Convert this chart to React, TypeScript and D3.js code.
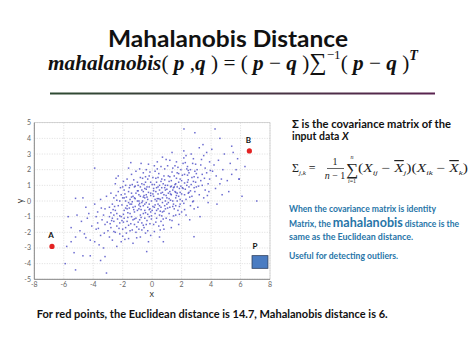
import React from "react";
import * as d3 from "d3";

const W = 474;
const H = 355;

const xTicks = [-8, -6, -4, -2, 0, 2, 4, 6, 8];
const yTicks = [-5, -4, -3, -2, -1, 0, 1, 2, 3, 4, 5];

// scatter cloud [x, y]
const cloud: [number, number][] = [
  [-4.8,-1.3],[-4.6,-2.1],[-4.3,-0.8],[-4.1,-1.6],[-4.5,-0.4],[-4.2,-2.5],[-4.9,-1.9],[-4.4,-1.1],
  [-3.9,-0.2],[-3.7,-1.4],[-3.5,-2.2],[-3.3,-0.9],[-3.8,-1.8],[-3.2,-0.5],[-3.6,-2.8],[-3.4,-1.2],[-3.1,0.3],[-3.9,-2.6],[-3.3,-3.0],[-3.7,-0.7],[-3.0,-1.9],[-3.5,0.1],[-3.2,-1.5],[-3.8,-1.0],
  [-2.9,-0.4],[-2.7,-1.1],[-2.5,-2.0],[-2.3,0.6],[-2.8,-1.7],[-2.6,0.2],[-2.4,-0.8],[-2.2,-1.4],[-2.1,-2.6],[-2.9,-2.3],[-2.5,1.1],[-2.7,-0.2],[-2.3,-0.3],[-2.0,0.9],[-2.6,-1.3],[-2.4,-2.9],[-2.2,0.0],[-2.8,0.5],[-2.1,-1.0],[-2.5,-0.6],[-2.0,-1.8],[-2.3,1.6],[-2.7,-2.5],[-2.9,-1.0],[-2.1,0.4],[-2.4,-1.6],[-2.6,-0.9],[-2.2,-2.1],
  [-1.9,0.2],[-1.7,-0.5],[-1.5,1.0],[-1.3,-1.2],[-1.8,-1.7],[-1.6,0.6],[-1.4,-0.2],[-1.2,0.9],[-1.1,-2.0],[-1.9,-1.1],[-1.5,-0.8],[-1.7,1.4],[-1.3,0.3],[-1.0,-0.6],[-1.8,0.0],[-1.6,-2.4],[-1.4,1.7],[-1.2,-1.5],[-1.1,0.5],[-1.9,-0.6],[-1.5,0.1],[-1.7,-1.3],[-1.3,-0.4],[-1.0,1.2],[-1.8,1.0],[-1.6,-0.1],[-1.4,-1.0],[-1.2,-0.7],[-1.1,1.9],[-1.5,-1.9],[-1.9,0.7],[-1.3,-2.7],[-1.6,2.1],[-1.0,0.0],[-1.2,0.2],[-1.7,-0.3],[-1.4,0.5],[-1.1,-1.1],
  [-0.9,0.4],[-0.8,-0.9],[-0.7,1.1],[-0.6,-0.3],[-0.5,0.8],[-0.4,-1.5],[-0.3,0.1],[-0.2,1.6],[-0.1,-0.7],[-0.9,-1.8],[-0.8,1.5],[-0.7,-0.1],[-0.6,0.6],[-0.5,-1.1],[-0.4,2.0],[-0.3,-0.4],[-0.2,0.9],[-0.1,-2.2],[-0.9,0.0],[-0.8,0.3],[-0.7,-1.4],[-0.6,1.8],[-0.5,-0.6],[-0.4,0.4],[-0.3,-1.9],[-0.2,-0.2],[-0.1,1.2],[-0.9,-0.5],[-0.8,-2.3],[-0.7,0.7],[-0.6,-0.8],[-0.5,0.2],[-0.4,-0.1],[-0.3,1.4],[-0.2,-1.0],[-0.1,0.5],[-0.95,1.0],[-0.55,-1.7],[-0.35,0.9],[-0.15,-0.5],[-0.75,2.4],[-0.25,-2.6],[-0.65,0.0],[-0.45,1.2],[-0.05,0.0],[-0.85,-1.2],
  [0.1,0.3],[0.2,-0.8],[0.3,1.2],[0.4,-0.2],[0.5,0.7],[0.6,-1.3],[0.7,0.2],[0.8,1.6],[0.9,-0.5],[0.1,-1.5],[0.2,1.9],[0.3,0.0],[0.4,0.9],[0.5,-0.9],[0.6,0.5],[0.7,-0.1],[0.8,-1.8],[0.9,1.0],[0.1,0.8],[0.2,0.1],[0.3,-1.1],[0.4,1.5],[0.5,-0.3],[0.6,2.2],[0.7,-0.7],[0.8,0.4],[0.9,0.0],[0.15,-0.4],[0.35,2.5],[0.55,0.1],[0.75,1.1],[0.95,-1.1],[0.25,0.6],[0.45,-1.6],[0.65,1.4],[0.85,-0.3],[0.05,1.5],[0.5,-2.3],[0.7,2.8],[0.3,-0.6],[0.9,0.7],[0.6,-0.4],
  [1.1,0.5],[1.2,-0.4],[1.3,1.3],[1.4,0.0],[1.5,0.9],[1.6,-0.9],[1.7,1.8],[1.8,0.3],[1.9,-0.2],[1.1,1.6],[1.2,-1.2],[1.3,0.4],[1.4,2.1],[1.5,-0.5],[1.6,1.1],[1.7,0.0],[1.8,-1.5],[1.9,1.4],[1.0,0.2],[1.25,0.9],[1.45,-0.2],[1.65,2.5],[1.85,0.8],[1.15,-0.8],[1.35,3.1],[1.55,0.6],[1.75,-0.6],[1.95,2.0],[1.05,1.0],[1.5,1.6],[1.3,-1.7],[1.7,0.5],[1.9,0.1],[1.2,2.6],[1.6,0.2],[1.8,1.2],[1.4,0.7],[1.1,-0.1],
  [2.1,0.8],[2.2,1.7],[2.3,0.1],[2.4,2.2],[2.5,0.9],[2.6,-0.3],[2.7,1.5],[2.8,2.7],[2.9,0.6],[2.0,-0.7],[2.2,0.4],[2.4,1.2],[2.6,2.0],[2.8,0.0],[2.1,2.4],[2.3,-0.9],[2.5,1.8],[2.7,0.3],[2.9,1.9],[2.0,1.3],[2.15,3.2],[2.35,1.0],[2.55,-1.2],[2.75,2.4],[2.95,1.2],[2.45,0.5],[2.65,3.0],[2.05,0.0],[2.85,-0.5],[2.3,2.9],
  [3.1,1.5],[3.2,0.4],[3.3,2.3],[3.4,1.0],[3.5,2.9],[3.6,0.7],[3.7,1.8],[3.8,-0.1],[3.9,2.5],[3.0,0.9],[3.2,3.4],[3.4,1.7],[3.6,2.1],[3.8,1.1],[3.1,-0.4],[3.3,1.3],[3.5,0.2],[3.7,3.1],[3.9,1.4],[3.05,2.0],[3.45,3.6],[3.85,0.6],[3.25,-1.0],
  [4.1,1.9],[4.3,0.8],[4.5,2.6],[4.7,1.4],[4.9,3.0],[4.2,2.3],[4.4,-0.2],[4.6,1.1],[4.8,2.0],[4.05,3.3],[4.35,1.6],[4.75,0.4],
  [5.1,1.3],[5.3,2.4],[5.5,3.1],[5.2,0.6],[5.7,2.0],[5.9,1.4],[5.4,1.7],[5.8,2.7],
  [-5.5,-1.7],[-5.2,-2.3],[-5.8,-2.9],[-5.1,-0.9],[-5.3,-3.3],
  [6.3,2.2],[6.1,0.3],
  [2.16,4.6],[2.9,4.36],[4.27,4.6],[4.6,4.0],[5.4,3.5],[7.1,0.0],[5.9,1.4],[2.84,-2.28],[-3.9,2.1],[-5.2,0.17],[-4.7,0.2],
  [-5.7,-1.0],[-5.5,-2.6],[-5.9,-4.0],[-5.2,-4.4],[-4.7,-3.5],[-4.2,-3.5],[-3.1,-4.6],[-3.5,-3.8],[-3.2,-3.55],[-0.37,-3.23],[-4.5,-2.34],[0.76,-2.6],
];

// denser core of the cloud [x, y]
const cloudCore: [number, number][] = [
  [-2.85,-1.45],[-2.65,-0.55],[-2.45,0.35],[-2.25,-1.75],[-2.05,-0.25],[-1.95,-1.35],[-1.85,0.45],[-1.75,-2.05],[-1.65,-0.75],[-1.55,0.85],[-1.45,-1.45],[-1.35,-0.05],[-1.25,1.35],[-1.15,-0.35],[-1.05,-1.65],[-0.95,0.65],[-0.85,-0.15],[-0.75,-1.05],[-0.65,1.45],[-0.55,0.35],[-0.45,-0.75],[-0.35,-1.25],[-0.25,0.55],[-0.15,1.85],[-0.05,-0.95],[0.05,0.45],[0.15,1.05],[0.25,-1.35],[0.35,0.15],[0.45,1.75],[0.55,-0.65],[0.65,0.85],[0.75,-1.15],[0.85,2.05],[0.95,0.35],[1.05,-0.45],[1.15,1.25],[1.25,0.05],[1.35,1.85],[1.45,-0.95],[1.55,1.05],[1.65,0.35],[1.75,2.15],[1.85,-0.35],[1.95,0.95],[2.05,1.65],[2.15,-0.15],[2.25,0.75],[2.35,2.05],[2.45,1.35],[2.55,0.25],[2.65,1.05],[2.75,-0.05],[2.85,1.55],[2.95,2.35],
  [-2.8,-0.75],[-2.6,-1.95],[-2.4,0.05],[-2.2,-0.95],[-2.0,-2.25],[-1.8,-0.45],[-1.6,-1.55],[-1.4,0.25],[-1.2,-1.15],[-1.0,0.65],[-0.8,-0.35],[-0.6,-1.55],[-0.4,0.75],[-0.2,-0.55],[0.0,1.05],[0.2,-0.25],[0.4,0.45],[0.6,1.25],[0.8,-0.65],[1.0,0.75],[1.2,1.55],[1.4,-0.35],[1.6,0.55],[1.8,1.75],[2.0,0.45],[2.2,-0.55],[2.4,1.65],[2.6,0.65],[2.8,1.25],[3.0,1.75],
  [-2.75,-1.25],[-2.35,-1.15],[-1.95,-0.85],[-1.55,-0.45],[-1.15,0.15],[-0.75,-0.55],[-0.35,0.25],[0.05,-0.35],[0.45,0.15],[0.85,0.85],[1.25,0.45],[1.65,1.45],[2.05,0.85],[2.45,1.95],[2.85,0.85],[-2.15,0.85],[-1.75,0.25],[-1.35,1.05],[-0.95,-1.35],[-0.55,1.05],[-0.15,-1.45],[0.25,1.45],[0.65,-0.95],[1.05,2.25],[1.45,0.85],[1.85,-0.85],[2.25,2.45],[-3.05,-1.35],[-3.25,-2.05],[-3.45,-0.45],[-3.65,-1.75],[3.15,0.95],[3.35,2.65],[3.55,1.45],[3.75,0.35],[3.95,1.95],[-1.05,-2.35],[-0.45,-2.05],[0.15,-1.95],[0.75,-1.55],[1.35,-1.25],[-1.45,2.45],[-0.85,2.05],[-0.25,2.35],[0.35,2.05],[0.95,2.65],
  [-2.55,-0.35],[-2.05,-1.25],[-1.65,-1.05],[-1.25,-0.55],[-0.9,-0.25],[-0.6,0.25],[-0.3,-0.85],[0.1,0.65],[0.4,-0.5],[0.7,0.55],[1.0,-0.2],[1.3,0.95],[1.6,-0.3],[1.9,0.55],[2.2,1.15],[2.5,0.55],[-1.85,-2.45],[-1.35,-1.85],[-0.7,-1.85],[-0.05,-1.15],[0.55,-1.85],[-2.45,1.45],[-1.95,1.25],[-0.45,1.55],[0.15,2.25],[0.85,1.35],[1.55,2.25],[2.15,2.75],[-1.15,0.95],[-0.1,0.35],[0.3,0.85],[1.15,0.15],[1.7,0.9],[-0.5,-0.2],[-1.5,-0.2],[-2.0,0.2],[0.0,-0.6],[0.5,1.0],[1.2,0.6],[-0.8,0.9],
];

const redPoints = [
  { label: "A", x: -6.8, y: -2.9 },
  { label: "B", x: 6.6, y: 3.2 },
];

const boxP = { label: "P", x0: 6.78, x1: 7.86, y0: -3.49, y1: -4.3 };

const x = d3.scaleLinear().domain([-8, 8]).range([34.3, 270]);
const y = d3.scaleLinear().domain([-5, 5]).range([279.3, 122.7]);

const sans = "Lato, 'Open Sans', sans-serif";
const serif = "'Liberation Serif', 'DejaVu Serif', serif";
const blue = "#2775a8";

const allPoints = [...cloud, ...cloudCore];

export default function App() {
  return (
    <svg width={W} height={H} style={{ display: "block", position: "absolute", left: 0, top: 0, background: "#fff" }}>
      <defs>
        <linearGradient id="ul" x1="0" x2="1" y1="0" y2="0">
          <stop offset="0" stopColor="#2e4b32" />
          <stop offset="1" stopColor="#5a2350" />
        </linearGradient>
      </defs>
      <rect width={W} height={H} fill="#fff" />
      {/* Title */}
      <text x={228} y={47} textAnchor="middle" fontFamily={sans} fontWeight="bold" fontSize={22} fill="#111" textLength={240} lengthAdjust="spacingAndGlyphs">
        Mahalanobis Distance
      </text>
      {/* Formula */}
      <text x={48} y={70} fontFamily={serif} fontSize={21} fill="#111" fontWeight="bold" textLength={370} lengthAdjust="spacingAndGlyphs">
        <tspan fontStyle="italic">mahalanobis</tspan>
        <tspan fontWeight="normal">( </tspan>
        <tspan fontStyle="italic">p</tspan>
        <tspan fontWeight="normal"> ,</tspan>
        <tspan fontStyle="italic">q</tspan>
        <tspan fontWeight="normal"> ) = ( </tspan>
        <tspan fontStyle="italic">p</tspan>
        <tspan fontWeight="normal"> − </tspan>
        <tspan fontStyle="italic">q</tspan>
        <tspan fontWeight="normal"> )</tspan>
        <tspan fontWeight="normal" fontSize={24}>∑</tspan>
        <tspan fontWeight="normal" fontSize={13} dy={-11}>−1</tspan>
        <tspan fontWeight="normal" dy={11}>( </tspan>
        <tspan fontStyle="italic">p</tspan>
        <tspan fontWeight="normal"> − </tspan>
        <tspan fontStyle="italic">q</tspan>
        <tspan fontWeight="normal"> )</tspan>
        <tspan fontStyle="italic" fontSize={14} dy={-10}>T</tspan>
      </text>
      <rect x={50} y={92.5} width={385} height={2} fill="url(#ul)" />

      {/* Plot grid */}
      {xTicks.map((t) => (
        <line key={"gx" + t} x1={x(t)} x2={x(t)} y1={y(5)} y2={y(-5)} stroke="#c8c8c8" strokeWidth={0.6} strokeDasharray="1,1.5" />
      ))}
      {yTicks.map((t) => (
        <line key={"gy" + t} x1={x(-8)} x2={x(8)} y1={y(t)} y2={y(t)} stroke="#c8c8c8" strokeWidth={0.6} strokeDasharray="1,1.5" />
      ))}
      <rect x={x(-8)} y={y(5)} width={x(8) - x(-8)} height={y(-5) - y(5)} fill="none" stroke="#bdbdbd" strokeWidth={0.6} />
      <line x1={x(-8)} x2={x(-8)} y1={y(5)} y2={y(-5)} stroke="#777" strokeWidth={0.8} />
      <line x1={x(-8)} x2={x(8)} y1={y(-5)} y2={y(-5)} stroke="#777" strokeWidth={0.8} />
      {xTicks.map((t) => (
        <text key={"tx" + t} x={x(t)} y={287} textAnchor="middle" fontFamily={sans} fontSize={7} fill="#666">{t}</text>
      ))}
      {yTicks.map((t) => (
        <text key={"ty" + t} x={31} y={y(t) + 2.5} textAnchor="end" fontFamily={sans} fontSize={7} fill="#666">{t}</text>
      ))}
      <text x={151.7} y={297} textAnchor="middle" fontFamily={sans} fontSize={9} fill="#333">x</text>
      <text transform={`translate(23,${y(0)}) rotate(-90)`} textAnchor="middle" fontFamily={sans} fontSize={9} fill="#333">y</text>

      {/* Scatter cloud */}
      {allPoints.map(([px, py], i) => (
        <rect key={i} x={x(px) - 0.75} y={y(py) - 0.75} width={1.5} height={1.5} fill="#4646c4" opacity={0.8} />
      ))}
      {/* Red points */}
      {redPoints.map((p) => (
        <g key={p.label}>
          <circle cx={x(p.x)} cy={y(p.y)} r={2.6} fill="#e32222" />
          <text x={x(p.x) - 1} y={y(p.y) - 8} textAnchor="middle" fontFamily={sans} fontWeight="bold" fontSize={8} fill="#111">{p.label}</text>
        </g>
      ))}
      <rect x={x(boxP.x0)} y={y(boxP.y0)} width={x(boxP.x1) - x(boxP.x0)} height={y(boxP.y1) - y(boxP.y0)} fill="#4a7cc2" stroke="#2c3f5e" strokeWidth={0.8} />
      <text x={x(boxP.x0) + 3} y={y(boxP.y0) - 7} textAnchor="middle" fontFamily={sans} fontWeight="bold" fontSize={8} fill="#111">{boxP.label}</text>

      {/* Right text */}
      <text x={292} y={127.5} fontFamily={sans} fontWeight="bold" fontSize={10.5} fill="#111" textLength={159} lengthAdjust="spacingAndGlyphs">Σ is the covariance matrix of the</text>
      <text x={292} y={140} fontFamily={sans} fontWeight="bold" fontSize={10.5} fill="#111">input data <tspan fontStyle="italic">X</tspan></text>

      {/* Covariance formula */}
      <text x={292} y={172} fontFamily={serif} fontSize={12} fill="#222">
        Σ<tspan fontSize={7} fontStyle="italic" dy={3}>j,k</tspan><tspan dy={-3}> =</tspan>
      </text>
      <text x={335} y={165} textAnchor="middle" fontFamily={serif} fontSize={10} fill="#222">1</text>
      <line x1={327} x2={344} y1={168.5} y2={168.5} stroke="#222" strokeWidth={0.7} />
      <text x={335} y={179} textAnchor="middle" fontFamily={serif} fontSize={10} fill="#222"><tspan fontStyle="italic">n</tspan> − 1</text>
      <text x={352} y={175} textAnchor="middle" fontFamily={serif} fontSize={17} fill="#222">∑</text>
      <text x={352} y={159} textAnchor="middle" fontFamily={serif} fontSize={6} fontStyle="italic" fill="#222">n</text>
      <text x={352} y={183} textAnchor="middle" fontFamily={serif} fontSize={6} fill="#222"><tspan fontStyle="italic">i</tspan>=1</text>
      <text x={358} y={172} fontFamily={serif} fontSize={12} fill="#222" textLength={110} lengthAdjust="spacingAndGlyphs">
        (<tspan fontStyle="italic">X</tspan><tspan fontSize={7} fontStyle="italic" dy={3}>ij</tspan><tspan dy={-3}> − </tspan><tspan fontStyle="italic" style={{ textDecoration: "overline" }}>X</tspan><tspan fontSize={7} fontStyle="italic" dy={3}>j</tspan><tspan dy={-3}>)(</tspan><tspan fontStyle="italic">X</tspan><tspan fontSize={7} fontStyle="italic" dy={3}>ik</tspan><tspan dy={-3}> − </tspan><tspan fontStyle="italic" style={{ textDecoration: "overline" }}>X</tspan><tspan fontSize={7} fontStyle="italic" dy={3}>k</tspan><tspan dy={-3}>)</tspan>
      </text>

      {/* Blue notes */}
      <text x={289} y={212} fontFamily={sans} fontWeight="bold" fontSize={8.5} fill={blue} textLength={147} lengthAdjust="spacingAndGlyphs">When the covariance matrix is identity</text>
      <text x={289} y={226.5} fontFamily={sans} fontWeight="bold" fontSize={8.5} fill={blue} textLength={170} lengthAdjust="spacingAndGlyphs">
        Matrix, the <tspan fontSize={12.5}>mahalanobis</tspan> distance is the
      </text>
      <text x={289} y={239.5} fontFamily={sans} fontWeight="bold" fontSize={8.5} fill={blue} textLength={124} lengthAdjust="spacingAndGlyphs">same as the Euclidean distance.</text>
      <text x={289} y={258.5} fontFamily={sans} fontWeight="bold" fontSize={8.5} fill={blue} textLength={109} lengthAdjust="spacingAndGlyphs">Useful for detecting outliers.</text>

      {/* Bottom caption */}
      <text x={36.7} y={318} fontFamily={sans} fontWeight="bold" fontSize={12} fill="#111" textLength={351} lengthAdjust="spacingAndGlyphs">
        For red points, the Euclidean distance is 14.7, Mahalanobis distance is 6.
      </text>
    </svg>
  );
}
